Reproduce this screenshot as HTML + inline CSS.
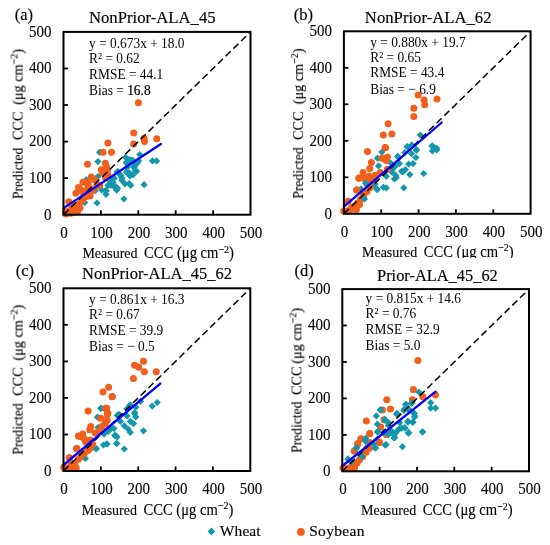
<!DOCTYPE html>
<html><head><meta charset="utf-8"><style>
html,body{margin:0;padding:0;background:#fff;}
svg{display:block;font-family:"Liberation Serif", serif;}
text{fill:#000;stroke:#000;stroke-width:0;will-change:transform;}
.k{stroke-width:0.1px;}
.t{stroke-width:0.15px;}
.l{stroke-width:0.12px;}
</style></head><body>
<svg width="550" height="545" viewBox="0 0 550 545">
<path d="M99.6 148.7L103.2 152.3L99.6 155.9L96.0 152.3Z" fill="#1297ab"/>
<path d="M98.0 158.0L101.6 161.6L98.0 165.2L94.4 161.6Z" fill="#1297ab"/>
<path d="M86.4 176.1L90.0 179.7L86.4 183.3L82.8 179.7Z" fill="#1297ab"/>
<path d="M97.9 173.0L101.5 176.6L97.9 180.2L94.3 176.6Z" fill="#1297ab"/>
<path d="M82.0 188.9L85.6 192.5L82.0 196.1L78.4 192.5Z" fill="#1297ab"/>
<path d="M95.2 187.1L98.8 190.7L95.2 194.3L91.6 190.7Z" fill="#1297ab"/>
<path d="M97.0 199.4L100.6 203.0L97.0 206.6L93.4 203.0Z" fill="#1297ab"/>
<path d="M84.7 199.0L88.3 202.6L84.7 206.2L81.1 202.6Z" fill="#1297ab"/>
<path d="M117.3 168.4L120.9 172.0L117.3 175.6L113.7 172.0Z" fill="#1297ab"/>
<path d="M112.9 175.0L116.5 178.6L112.9 182.2L109.3 178.6Z" fill="#1297ab"/>
<path d="M110.7 178.4L114.3 182.0L110.7 185.6L107.1 182.0Z" fill="#1297ab"/>
<path d="M115.0 183.8L118.6 187.4L115.0 191.0L111.4 187.4Z" fill="#1297ab"/>
<path d="M106.3 187.1L109.9 190.7L106.3 194.3L102.7 190.7Z" fill="#1297ab"/>
<path d="M139.7 150.9L143.3 154.5L139.7 158.1L136.1 154.5Z" fill="#1297ab"/>
<path d="M125.6 153.7L129.2 157.3L125.6 160.9L122.0 157.3Z" fill="#1297ab"/>
<path d="M131.0 156.7L134.6 160.3L131.0 163.9L127.4 160.3Z" fill="#1297ab"/>
<path d="M152.5 157.3L156.1 160.9L152.5 164.5L148.9 160.9Z" fill="#1297ab"/>
<path d="M156.6 157.3L160.2 160.9L156.6 164.5L153.0 160.9Z" fill="#1297ab"/>
<path d="M126.8 159.7L130.4 163.3L126.8 166.9L123.2 163.3Z" fill="#1297ab"/>
<path d="M137.0 159.7L140.6 163.3L137.0 166.9L133.4 163.3Z" fill="#1297ab"/>
<path d="M133.4 163.2L137.0 166.8L133.4 170.4L129.8 166.8Z" fill="#1297ab"/>
<path d="M135.2 166.8L138.8 170.4L135.2 174.0L131.6 170.4Z" fill="#1297ab"/>
<path d="M129.2 169.2L132.8 172.8L129.2 176.4L125.6 172.8Z" fill="#1297ab"/>
<path d="M129.8 172.2L133.4 175.8L129.8 179.4L126.2 175.8Z" fill="#1297ab"/>
<path d="M117.9 168.0L121.5 171.6L117.9 175.2L114.3 171.6Z" fill="#1297ab"/>
<path d="M120.9 172.2L124.5 175.8L120.9 179.4L117.3 175.8Z" fill="#1297ab"/>
<path d="M122.0 176.9L125.6 180.5L122.0 184.1L118.4 180.5Z" fill="#1297ab"/>
<path d="M129.2 179.9L132.8 183.5L129.2 187.1L125.6 183.5Z" fill="#1297ab"/>
<path d="M114.3 174.6L117.9 178.2L114.3 181.8L110.7 178.2Z" fill="#1297ab"/>
<path d="M111.3 178.1L114.9 181.7L111.3 185.3L107.7 181.7Z" fill="#1297ab"/>
<path d="M115.5 182.9L119.1 186.5L115.5 190.1L111.9 186.5Z" fill="#1297ab"/>
<path d="M116.7 186.5L120.3 190.1L116.7 193.7L113.1 190.1Z" fill="#1297ab"/>
<path d="M110.7 181.7L114.3 185.3L110.7 188.9L107.1 185.3Z" fill="#1297ab"/>
<path d="M105.4 187.1L109.0 190.7L105.4 194.3L101.8 190.7Z" fill="#1297ab"/>
<path d="M106.0 190.7L109.6 194.3L106.0 197.9L102.4 194.3Z" fill="#1297ab"/>
<path d="M144.1 181.1L147.7 184.7L144.1 188.3L140.5 184.7Z" fill="#1297ab"/>
<path d="M123.9 195.4L127.5 199.0L123.9 202.6L120.3 199.0Z" fill="#1297ab"/>
<path d="M101.8 186.5L105.4 190.1L101.8 193.7L98.2 190.1Z" fill="#1297ab"/>
<path d="M127.0 164.0L130.6 167.6L127.0 171.2L123.4 167.6Z" fill="#1297ab"/>
<path d="M134.4 163.3L138.0 166.9L134.4 170.5L130.8 166.9Z" fill="#1297ab"/>
<path d="M136.6 167.7L140.2 171.3L136.6 174.9L133.0 171.3Z" fill="#1297ab"/>
<path d="M129.3 170.7L132.9 174.3L129.3 177.9L125.7 174.3Z" fill="#1297ab"/>
<path d="M132.9 171.4L136.5 175.0L132.9 178.6L129.3 175.0Z" fill="#1297ab"/>
<path d="M126.3 168.4L129.9 172.0L126.3 175.6L122.7 172.0Z" fill="#1297ab"/>
<path d="M129.3 156.0L132.9 159.6L129.3 163.2L125.7 159.6Z" fill="#1297ab"/>
<path d="M126.3 158.9L129.9 162.5L126.3 166.1L122.7 162.5Z" fill="#1297ab"/>
<path d="M132.9 156.7L136.5 160.3L132.9 163.9L129.3 160.3Z" fill="#1297ab"/>
<path d="M135.9 159.3L139.5 162.9L135.9 166.5L132.3 162.9Z" fill="#1297ab"/>
<path d="M138.8 157.4L142.4 161.0L138.8 164.6L135.2 161.0Z" fill="#1297ab"/>
<path d="M119.7 170.7L123.3 174.3L119.7 177.9L116.1 174.3Z" fill="#1297ab"/>
<path d="M121.9 174.4L125.5 178.0L121.9 181.6L118.3 178.0Z" fill="#1297ab"/>
<path d="M124.9 180.2L128.5 183.8L124.9 187.4L121.3 183.8Z" fill="#1297ab"/>
<path d="M130.7 181.7L134.3 185.3L130.7 188.9L127.1 185.3Z" fill="#1297ab"/>
<path d="M108.0 181.7L111.6 185.3L108.0 188.9L104.4 185.3Z" fill="#1297ab"/>
<path d="M113.1 178.8L116.7 182.4L113.1 186.0L109.5 182.4Z" fill="#1297ab"/>
<path d="M117.5 184.6L121.1 188.2L117.5 191.8L113.9 188.2Z" fill="#1297ab"/>
<circle cx="138.4" cy="102.7" r="3.5" fill="#f15f1c"/>
<circle cx="133.7" cy="133.0" r="3.5" fill="#f15f1c"/>
<circle cx="156.8" cy="138.8" r="3.5" fill="#f15f1c"/>
<circle cx="144.1" cy="138.3" r="3.5" fill="#f15f1c"/>
<circle cx="144.5" cy="141.5" r="3.5" fill="#f15f1c"/>
<circle cx="133.6" cy="144.1" r="3.5" fill="#f15f1c"/>
<circle cx="107.9" cy="143.0" r="3.5" fill="#f15f1c"/>
<circle cx="103.0" cy="152.3" r="3.5" fill="#f15f1c"/>
<circle cx="111.5" cy="152.3" r="3.5" fill="#f15f1c"/>
<circle cx="87.5" cy="164.3" r="3.5" fill="#f15f1c"/>
<circle cx="105.3" cy="163.3" r="3.5" fill="#f15f1c"/>
<circle cx="101.3" cy="169.8" r="3.5" fill="#f15f1c"/>
<circle cx="106.4" cy="169.0" r="3.5" fill="#f15f1c"/>
<circle cx="102.4" cy="173.1" r="3.5" fill="#f15f1c"/>
<circle cx="91.3" cy="177.0" r="3.5" fill="#f15f1c"/>
<circle cx="82.9" cy="182.3" r="3.5" fill="#f15f1c"/>
<circle cx="88.2" cy="182.3" r="3.5" fill="#f15f1c"/>
<circle cx="78.5" cy="187.6" r="3.5" fill="#f15f1c"/>
<circle cx="75.9" cy="193.3" r="3.5" fill="#f15f1c"/>
<circle cx="68.8" cy="201.7" r="3.5" fill="#f15f1c"/>
<circle cx="99.6" cy="185.2" r="3.5" fill="#f15f1c"/>
<circle cx="97.0" cy="185.9" r="3.5" fill="#f15f1c"/>
<circle cx="65.3" cy="211.4" r="3.5" fill="#f15f1c"/>
<circle cx="70.6" cy="209.6" r="3.5" fill="#f15f1c"/>
<circle cx="75.9" cy="207.0" r="3.5" fill="#f15f1c"/>
<circle cx="79.4" cy="203.5" r="3.5" fill="#f15f1c"/>
<circle cx="82.9" cy="200.0" r="3.5" fill="#f15f1c"/>
<circle cx="86.4" cy="196.4" r="3.5" fill="#f15f1c"/>
<circle cx="90.0" cy="192.9" r="3.5" fill="#f15f1c"/>
<circle cx="75.0" cy="212.3" r="3.5" fill="#f15f1c"/>
<circle cx="70.6" cy="213.2" r="3.5" fill="#f15f1c"/>
<circle cx="77.6" cy="211.4" r="3.5" fill="#f15f1c"/>
<circle cx="93.0" cy="190.0" r="3.5" fill="#f15f1c"/>
<circle cx="84.0" cy="197.0" r="3.5" fill="#f15f1c"/>
<circle cx="66.0" cy="214.0" r="3.5" fill="#f15f1c"/>
<circle cx="72.0" cy="205.0" r="3.5" fill="#f15f1c"/>
<circle cx="80.0" cy="208.0" r="3.5" fill="#f15f1c"/>
<circle cx="106.5" cy="166.9" r="3.5" fill="#f15f1c"/>
<circle cx="107.2" cy="171.3" r="3.5" fill="#f15f1c"/>
<circle cx="107.9" cy="175.0" r="3.5" fill="#f15f1c"/>
<circle cx="105.7" cy="178.0" r="3.5" fill="#f15f1c"/>
<circle cx="88.0" cy="186.0" r="3.5" fill="#f15f1c"/>
<circle cx="92.0" cy="189.0" r="3.5" fill="#f15f1c"/>
<circle cx="86.0" cy="191.0" r="3.5" fill="#f15f1c"/>
<circle cx="95.0" cy="180.0" r="3.5" fill="#f15f1c"/>
<circle cx="81.0" cy="190.0" r="3.5" fill="#f15f1c"/>
<circle cx="90.0" cy="196.0" r="3.5" fill="#f15f1c"/>
<circle cx="84.0" cy="194.0" r="3.5" fill="#f15f1c"/>
<line x1="63.5" y1="214.7" x2="250.5" y2="31.9" stroke="#000" stroke-width="1.5" stroke-dasharray="7 3.8"/>
<line x1="63.5" y1="208.1" x2="160.9" y2="144.0" stroke="#0000ff" stroke-width="2.3" stroke-linecap="round"/>
<rect x="63.5" y="31.9" width="187.0" height="182.8" fill="none" stroke="#000" stroke-width="2"/>
<line x1="100.9" y1="214.7" x2="100.9" y2="210.2" stroke="#000" stroke-width="1.8"/>
<line x1="63.5" y1="178.1" x2="68.0" y2="178.1" stroke="#000" stroke-width="1.8"/>
<line x1="138.3" y1="214.7" x2="138.3" y2="210.2" stroke="#000" stroke-width="1.8"/>
<line x1="63.5" y1="141.6" x2="68.0" y2="141.6" stroke="#000" stroke-width="1.8"/>
<line x1="175.7" y1="214.7" x2="175.7" y2="210.2" stroke="#000" stroke-width="1.8"/>
<line x1="63.5" y1="105.0" x2="68.0" y2="105.0" stroke="#000" stroke-width="1.8"/>
<line x1="213.1" y1="214.7" x2="213.1" y2="210.2" stroke="#000" stroke-width="1.8"/>
<line x1="63.5" y1="68.5" x2="68.0" y2="68.5" stroke="#000" stroke-width="1.8"/>
<text class="k" transform="translate(51.60,219.60) scale(1.0,1.05)" font-size="15.0" text-anchor="end">0</text>
<text class="k" transform="translate(64.10,237.90) scale(1.0,1.05)" font-size="15.0" text-anchor="middle">0</text>
<text class="k" transform="translate(51.60,183.04) scale(1.0,1.05)" font-size="15.0" text-anchor="end">100</text>
<text class="k" transform="translate(101.50,237.90) scale(1.0,1.05)" font-size="15.0" text-anchor="middle">100</text>
<text class="k" transform="translate(51.60,146.48) scale(1.0,1.05)" font-size="15.0" text-anchor="end">200</text>
<text class="k" transform="translate(138.90,237.90) scale(1.0,1.05)" font-size="15.0" text-anchor="middle">200</text>
<text class="k" transform="translate(51.60,109.92) scale(1.0,1.05)" font-size="15.0" text-anchor="end">300</text>
<text class="k" transform="translate(176.30,237.90) scale(1.0,1.05)" font-size="15.0" text-anchor="middle">300</text>
<text class="k" transform="translate(51.60,73.36) scale(1.0,1.05)" font-size="15.0" text-anchor="end">400</text>
<text class="k" transform="translate(213.70,237.90) scale(1.0,1.05)" font-size="15.0" text-anchor="middle">400</text>
<text class="k" transform="translate(51.60,36.80) scale(1.0,1.05)" font-size="15.0" text-anchor="end">500</text>
<text class="k" transform="translate(251.10,237.90) scale(1.0,1.05)" font-size="15.0" text-anchor="middle">500</text>
<text class="t" transform="translate(152.30,23.00)" font-size="16.7" text-anchor="middle">NonPrior-ALA_45</text>
<text class="t" transform="translate(14.70,20.00)" font-size="16.6">(a)</text>
<text transform="translate(89.10,47.90) scale(1.0,1.12)" font-size="13.4">y = 0.673x + 18.0</text>
<text transform="translate(89.10,63.20) scale(1.0,1.12)" font-size="13.4">R² = 0.62</text>
<text transform="translate(89.10,78.60) scale(1.0,1.12)" font-size="13.4">RMSE = 44.1</text>
<text transform="translate(89.10,94.90) scale(1.0,1.12)" font-size="13.4">Bias = <tspan style="stroke-width:0.22px">16.8</tspan></text>
<text class="l" transform="translate(82.40,258.00) scale(1.0,1.08)" font-size="14.0">Measured</text>
<text class="l" transform="translate(144.10,258.00) scale(1.0,1.08)" font-size="14.6">CCC (μg cm<tspan dy="-5" font-size="10">−2</tspan><tspan dy="5">)</tspan></text>
<text class="l" transform="translate(22.7,199.0) rotate(-90) scale(1,1.08)" font-size="13.6">Predicted</text>
<text class="l" transform="translate(22.7,140.1) rotate(-90) scale(1,1.08)" font-size="14.2">CCC</text>
<text class="l" transform="translate(22.7,104.7) rotate(-90) scale(1,1.08)" font-size="14.2">(μg cm<tspan dy="-5" font-size="10">−2</tspan><tspan dy="5">)</tspan></text>
<path d="M420.3 131.5L423.9 135.1L420.3 138.7L416.7 135.1Z" fill="#1297ab"/>
<path d="M407.4 143.4L411.0 147.0L407.4 150.6L403.8 147.0Z" fill="#1297ab"/>
<path d="M411.6 141.6L415.2 145.2L411.6 148.8L408.0 145.2Z" fill="#1297ab"/>
<path d="M432.5 142.2L436.1 145.8L432.5 149.4L428.9 145.8Z" fill="#1297ab"/>
<path d="M436.6 144.6L440.2 148.2L436.6 151.8L433.0 148.2Z" fill="#1297ab"/>
<path d="M416.4 145.8L420.0 149.4L416.4 153.0L412.8 149.4Z" fill="#1297ab"/>
<path d="M381.9 148.5L385.5 152.1L381.9 155.7L378.3 152.1Z" fill="#1297ab"/>
<path d="M377.4 154.6L381.0 158.2L377.4 161.8L373.8 158.2Z" fill="#1297ab"/>
<path d="M397.8 152.9L401.4 156.5L397.8 160.1L394.2 156.5Z" fill="#1297ab"/>
<path d="M378.5 162.3L382.1 165.9L378.5 169.5L374.9 165.9Z" fill="#1297ab"/>
<path d="M390.7 159.5L394.3 163.1L390.7 166.7L387.1 163.1Z" fill="#1297ab"/>
<path d="M395.0 162.8L398.6 166.4L395.0 170.0L391.4 166.4Z" fill="#1297ab"/>
<path d="M391.8 168.4L395.4 172.0L391.8 175.6L388.2 172.0Z" fill="#1297ab"/>
<path d="M396.2 173.8L399.8 177.4L396.2 181.0L392.6 177.4Z" fill="#1297ab"/>
<path d="M386.3 172.7L389.9 176.3L386.3 179.9L382.7 176.3Z" fill="#1297ab"/>
<path d="M366.4 178.8L370.0 182.4L366.4 186.0L362.8 182.4Z" fill="#1297ab"/>
<path d="M375.2 180.4L378.8 184.0L375.2 187.6L371.6 184.0Z" fill="#1297ab"/>
<path d="M376.9 185.4L380.5 189.0L376.9 192.6L373.3 189.0Z" fill="#1297ab"/>
<path d="M386.3 184.3L389.9 187.9L386.3 191.5L382.7 187.9Z" fill="#1297ab"/>
<path d="M360.9 185.4L364.5 189.0L360.9 192.6L357.3 189.0Z" fill="#1297ab"/>
<path d="M407.1 142.9L410.7 146.5L407.1 150.1L403.5 146.5Z" fill="#1297ab"/>
<path d="M412.0 141.8L415.6 145.4L412.0 149.0L408.4 145.4Z" fill="#1297ab"/>
<path d="M431.9 142.4L435.5 146.0L431.9 149.6L428.3 146.0Z" fill="#1297ab"/>
<path d="M436.8 146.2L440.4 149.8L436.8 153.4L433.2 149.8Z" fill="#1297ab"/>
<path d="M432.4 147.3L436.0 150.9L432.4 154.5L428.8 150.9Z" fill="#1297ab"/>
<path d="M416.4 146.8L420.0 150.4L416.4 154.0L412.8 150.4Z" fill="#1297ab"/>
<path d="M404.9 149.0L408.5 152.6L404.9 156.2L401.3 152.6Z" fill="#1297ab"/>
<path d="M411.5 150.1L415.1 153.7L411.5 157.3L407.9 153.7Z" fill="#1297ab"/>
<path d="M415.9 153.9L419.5 157.5L415.9 161.1L412.3 157.5Z" fill="#1297ab"/>
<path d="M397.7 152.8L401.3 156.4L397.7 160.0L394.1 156.4Z" fill="#1297ab"/>
<path d="M399.4 160.0L403.0 163.6L399.4 167.2L395.8 163.6Z" fill="#1297ab"/>
<path d="M408.7 160.5L412.3 164.1L408.7 167.7L405.1 164.1Z" fill="#1297ab"/>
<path d="M413.1 160.0L416.7 163.6L413.1 167.2L409.5 163.6Z" fill="#1297ab"/>
<path d="M405.4 166.0L409.0 169.6L405.4 173.2L401.8 169.6Z" fill="#1297ab"/>
<path d="M401.6 167.7L405.2 171.3L401.6 174.9L398.0 171.3Z" fill="#1297ab"/>
<path d="M409.8 171.0L413.4 174.6L409.8 178.2L406.2 174.6Z" fill="#1297ab"/>
<path d="M423.6 169.9L427.2 173.5L423.6 177.1L420.0 173.5Z" fill="#1297ab"/>
<path d="M392.2 166.0L395.8 169.6L392.2 173.2L388.6 169.6Z" fill="#1297ab"/>
<path d="M395.5 171.6L399.1 175.2L395.5 178.8L391.9 175.2Z" fill="#1297ab"/>
<path d="M394.4 175.4L398.0 179.0L394.4 182.6L390.8 179.0Z" fill="#1297ab"/>
<path d="M403.8 184.2L407.4 187.8L403.8 191.4L400.2 187.8Z" fill="#1297ab"/>
<path d="M402.9 168.3L406.5 171.9L402.9 175.5L399.3 171.9Z" fill="#1297ab"/>
<path d="M374.4 181.2L378.0 184.8L374.4 188.4L370.8 184.8Z" fill="#1297ab"/>
<path d="M377.2 186.1L380.8 189.7L377.2 193.3L373.6 189.7Z" fill="#1297ab"/>
<path d="M383.4 183.7L387.0 187.3L383.4 190.9L379.8 187.3Z" fill="#1297ab"/>
<path d="M361.3 185.7L364.9 189.3L361.3 192.9L357.7 189.3Z" fill="#1297ab"/>
<circle cx="418.2" cy="95.1" r="3.5" fill="#f15f1c"/>
<circle cx="424.1" cy="99.9" r="3.5" fill="#f15f1c"/>
<circle cx="424.7" cy="104.7" r="3.5" fill="#f15f1c"/>
<circle cx="437.0" cy="99.1" r="3.5" fill="#f15f1c"/>
<circle cx="413.8" cy="108.3" r="3.5" fill="#f15f1c"/>
<circle cx="413.8" cy="116.6" r="3.5" fill="#f15f1c"/>
<circle cx="388.1" cy="123.8" r="3.5" fill="#f15f1c"/>
<circle cx="383.3" cy="135.1" r="3.5" fill="#f15f1c"/>
<circle cx="391.9" cy="133.9" r="3.5" fill="#f15f1c"/>
<circle cx="385.4" cy="147.6" r="3.5" fill="#f15f1c"/>
<circle cx="385.2" cy="147.7" r="3.5" fill="#f15f1c"/>
<circle cx="367.5" cy="151.6" r="3.5" fill="#f15f1c"/>
<circle cx="381.9" cy="158.2" r="3.5" fill="#f15f1c"/>
<circle cx="387.4" cy="157.1" r="3.5" fill="#f15f1c"/>
<circle cx="386.3" cy="160.4" r="3.5" fill="#f15f1c"/>
<circle cx="371.4" cy="162.6" r="3.5" fill="#f15f1c"/>
<circle cx="369.7" cy="168.6" r="3.5" fill="#f15f1c"/>
<circle cx="363.1" cy="172.5" r="3.5" fill="#f15f1c"/>
<circle cx="359.3" cy="178.0" r="3.5" fill="#f15f1c"/>
<circle cx="364.8" cy="177.4" r="3.5" fill="#f15f1c"/>
<circle cx="369.2" cy="176.3" r="3.5" fill="#f15f1c"/>
<circle cx="375.2" cy="175.2" r="3.5" fill="#f15f1c"/>
<circle cx="380.2" cy="172.5" r="3.5" fill="#f15f1c"/>
<circle cx="387.4" cy="169.2" r="3.5" fill="#f15f1c"/>
<circle cx="356.5" cy="190.1" r="3.5" fill="#f15f1c"/>
<circle cx="369.7" cy="187.4" r="3.5" fill="#f15f1c"/>
<circle cx="363.1" cy="195.0" r="3.5" fill="#f15f1c"/>
<circle cx="358.8" cy="178.3" r="3.5" fill="#f15f1c"/>
<circle cx="362.9" cy="177.9" r="3.5" fill="#f15f1c"/>
<circle cx="366.2" cy="179.9" r="3.5" fill="#f15f1c"/>
<circle cx="356.8" cy="190.1" r="3.5" fill="#f15f1c"/>
<circle cx="370.3" cy="187.3" r="3.5" fill="#f15f1c"/>
<circle cx="367.0" cy="191.4" r="3.5" fill="#f15f1c"/>
<circle cx="363.7" cy="195.5" r="3.5" fill="#f15f1c"/>
<circle cx="360.5" cy="199.5" r="3.5" fill="#f15f1c"/>
<circle cx="358.0" cy="202.8" r="3.5" fill="#f15f1c"/>
<circle cx="354.7" cy="206.1" r="3.5" fill="#f15f1c"/>
<circle cx="350.6" cy="209.4" r="3.5" fill="#f15f1c"/>
<circle cx="346.5" cy="211.0" r="3.5" fill="#f15f1c"/>
<circle cx="343.7" cy="211.0" r="3.5" fill="#f15f1c"/>
<circle cx="348.2" cy="201.2" r="3.5" fill="#f15f1c"/>
<circle cx="351.5" cy="207.7" r="3.5" fill="#f15f1c"/>
<circle cx="356.4" cy="209.4" r="3.5" fill="#f15f1c"/>
<circle cx="359.6" cy="204.5" r="3.5" fill="#f15f1c"/>
<circle cx="367.0" cy="184.0" r="3.5" fill="#f15f1c"/>
<circle cx="371.0" cy="181.0" r="3.5" fill="#f15f1c"/>
<circle cx="375.0" cy="178.5" r="3.5" fill="#f15f1c"/>
<path d="M364.5 195.4L368.1 199.0L364.5 202.6L360.9 199.0Z" fill="#1297ab"/>
<path d="M365.6 179.4L369.2 183.0L365.6 186.6L362.0 183.0Z" fill="#1297ab"/>
<line x1="343.9" y1="213.8" x2="530.6" y2="31.3" stroke="#000" stroke-width="1.5" stroke-dasharray="7 3.8"/>
<line x1="343.9" y1="206.6" x2="441.7" y2="122.5" stroke="#0000ff" stroke-width="2.3" stroke-linecap="round"/>
<rect x="343.9" y="31.3" width="186.7" height="182.5" fill="none" stroke="#000" stroke-width="2"/>
<line x1="381.2" y1="213.8" x2="381.2" y2="209.3" stroke="#000" stroke-width="1.8"/>
<line x1="343.9" y1="177.3" x2="348.4" y2="177.3" stroke="#000" stroke-width="1.8"/>
<line x1="418.6" y1="213.8" x2="418.6" y2="209.3" stroke="#000" stroke-width="1.8"/>
<line x1="343.9" y1="140.8" x2="348.4" y2="140.8" stroke="#000" stroke-width="1.8"/>
<line x1="455.9" y1="213.8" x2="455.9" y2="209.3" stroke="#000" stroke-width="1.8"/>
<line x1="343.9" y1="104.3" x2="348.4" y2="104.3" stroke="#000" stroke-width="1.8"/>
<line x1="493.3" y1="213.8" x2="493.3" y2="209.3" stroke="#000" stroke-width="1.8"/>
<line x1="343.9" y1="67.8" x2="348.4" y2="67.8" stroke="#000" stroke-width="1.8"/>
<text class="k" transform="translate(332.00,218.70) scale(1.0,1.05)" font-size="15.0" text-anchor="end">0</text>
<text class="k" transform="translate(344.50,237.00) scale(1.0,1.05)" font-size="15.0" text-anchor="middle">0</text>
<text class="k" transform="translate(332.00,182.20) scale(1.0,1.05)" font-size="15.0" text-anchor="end">100</text>
<text class="k" transform="translate(381.84,237.00) scale(1.0,1.05)" font-size="15.0" text-anchor="middle">100</text>
<text class="k" transform="translate(332.00,145.70) scale(1.0,1.05)" font-size="15.0" text-anchor="end">200</text>
<text class="k" transform="translate(419.18,237.00) scale(1.0,1.05)" font-size="15.0" text-anchor="middle">200</text>
<text class="k" transform="translate(332.00,109.20) scale(1.0,1.05)" font-size="15.0" text-anchor="end">300</text>
<text class="k" transform="translate(456.52,237.00) scale(1.0,1.05)" font-size="15.0" text-anchor="middle">300</text>
<text class="k" transform="translate(332.00,72.70) scale(1.0,1.05)" font-size="15.0" text-anchor="end">400</text>
<text class="k" transform="translate(493.86,237.00) scale(1.0,1.05)" font-size="15.0" text-anchor="middle">400</text>
<text class="k" transform="translate(332.00,36.20) scale(1.0,1.05)" font-size="15.0" text-anchor="end">500</text>
<text class="k" transform="translate(531.20,237.00) scale(1.0,1.05)" font-size="15.0" text-anchor="middle">500</text>
<text class="t" transform="translate(428.20,23.40)" font-size="16.7" text-anchor="middle">NonPrior-ALA_62</text>
<text class="t" transform="translate(293.80,20.00)" font-size="16.6">(b)</text>
<text transform="translate(370.20,46.70) scale(1.0,1.12)" font-size="13.4">y = 0.880x + 19.7</text>
<text transform="translate(370.20,62.00) scale(1.0,1.12)" font-size="13.4">R² = 0.65</text>
<text transform="translate(370.20,77.40) scale(1.0,1.12)" font-size="13.4">RMSE = 43.4</text>
<text transform="translate(370.20,93.70) scale(1.0,1.12)" font-size="13.4">Bias = − 6.9</text>
<text class="l" transform="translate(362.00,256.80) scale(1.0,1.08)" font-size="14.0">Measured</text>
<text class="l" transform="translate(423.70,256.80) scale(1.0,1.08)" font-size="14.6">CCC (μg cm<tspan dy="-5" font-size="10">−2</tspan><tspan dy="5">)</tspan></text>
<text class="l" transform="translate(303.1,198.6) rotate(-90) scale(1,1.08)" font-size="13.6">Predicted</text>
<text class="l" transform="translate(303.1,139.9) rotate(-90) scale(1,1.08)" font-size="14.2">CCC</text>
<text class="l" transform="translate(303.1,104.2) rotate(-90) scale(1,1.08)" font-size="14.2">(μg cm<tspan dy="-5" font-size="10">−2</tspan><tspan dy="5">)</tspan></text>
<path d="M157.2 398.9L160.8 402.5L157.2 406.1L153.6 402.5Z" fill="#1297ab"/>
<path d="M152.2 402.5L155.8 406.1L152.2 409.7L148.6 406.1Z" fill="#1297ab"/>
<path d="M140.5 397.7L144.1 401.3L140.5 404.9L136.9 401.3Z" fill="#1297ab"/>
<path d="M129.8 401.9L133.4 405.5L129.8 409.1L126.2 405.5Z" fill="#1297ab"/>
<path d="M135.8 403.6L139.4 407.2L135.8 410.8L132.2 407.2Z" fill="#1297ab"/>
<path d="M127.4 405.4L131.0 409.0L127.4 412.6L123.8 409.0Z" fill="#1297ab"/>
<path d="M101.2 404.8L104.8 408.4L101.2 412.0L97.6 408.4Z" fill="#1297ab"/>
<path d="M119.1 410.8L122.7 414.4L119.1 418.0L115.5 414.4Z" fill="#1297ab"/>
<path d="M134.6 409.0L138.2 412.6L134.6 416.2L131.0 412.6Z" fill="#1297ab"/>
<path d="M100.7 404.7L104.3 408.3L100.7 411.9L97.1 408.3Z" fill="#1297ab"/>
<path d="M97.4 413.5L101.0 417.1L97.4 420.7L93.8 417.1Z" fill="#1297ab"/>
<path d="M117.3 411.8L120.9 415.4L117.3 419.0L113.7 415.4Z" fill="#1297ab"/>
<path d="M98.0 423.9L101.6 427.5L98.0 431.1L94.4 427.5Z" fill="#1297ab"/>
<path d="M109.6 426.1L113.2 429.7L109.6 433.3L106.0 429.7Z" fill="#1297ab"/>
<path d="M114.0 425.0L117.6 428.6L114.0 432.2L110.4 428.6Z" fill="#1297ab"/>
<path d="M104.1 430.5L107.7 434.1L104.1 437.7L100.5 434.1Z" fill="#1297ab"/>
<path d="M115.1 431.6L118.7 435.2L115.1 438.8L111.5 435.2Z" fill="#1297ab"/>
<path d="M106.3 440.4L109.9 444.0L106.3 447.6L102.7 444.0Z" fill="#1297ab"/>
<path d="M116.7 439.9L120.3 443.5L116.7 447.1L113.1 443.5Z" fill="#1297ab"/>
<path d="M96.3 444.9L99.9 448.5L96.3 452.1L92.7 448.5Z" fill="#1297ab"/>
<path d="M93.0 439.9L96.6 443.5L93.0 447.1L89.4 443.5Z" fill="#1297ab"/>
<path d="M84.2 453.7L87.8 457.3L84.2 460.9L80.6 457.3Z" fill="#1297ab"/>
<path d="M85.4 454.9L89.0 458.5L85.4 462.1L81.8 458.5Z" fill="#1297ab"/>
<path d="M96.0 445.4L99.6 449.0L96.0 452.6L92.4 449.0Z" fill="#1297ab"/>
<path d="M86.5 440.2L90.1 443.8L86.5 447.4L82.9 443.8Z" fill="#1297ab"/>
<path d="M130.3 401.3L133.9 404.9L130.3 408.5L126.7 404.9Z" fill="#1297ab"/>
<path d="M127.0 405.2L130.6 408.8L127.0 412.4L123.4 408.8Z" fill="#1297ab"/>
<path d="M118.2 411.2L121.8 414.8L118.2 418.4L114.6 414.8Z" fill="#1297ab"/>
<path d="M127.0 412.3L130.6 415.9L127.0 419.5L123.4 415.9Z" fill="#1297ab"/>
<path d="M134.7 410.1L138.3 413.7L134.7 417.3L131.1 413.7Z" fill="#1297ab"/>
<path d="M135.8 413.4L139.4 417.0L135.8 420.6L132.2 417.0Z" fill="#1297ab"/>
<path d="M130.3 417.8L133.9 421.4L130.3 425.0L126.7 421.4Z" fill="#1297ab"/>
<path d="M133.6 420.0L137.2 423.6L133.6 427.2L130.0 423.6Z" fill="#1297ab"/>
<path d="M120.4 417.8L124.0 421.4L120.4 425.0L116.8 421.4Z" fill="#1297ab"/>
<path d="M124.3 422.2L127.9 425.8L124.3 429.4L120.7 425.8Z" fill="#1297ab"/>
<path d="M128.1 425.5L131.7 429.1L128.1 432.7L124.5 429.1Z" fill="#1297ab"/>
<path d="M130.3 428.8L133.9 432.4L130.3 436.0L126.7 432.4Z" fill="#1297ab"/>
<path d="M143.5 427.2L147.1 430.8L143.5 434.4L139.9 430.8Z" fill="#1297ab"/>
<path d="M111.6 424.4L115.2 428.0L111.6 431.6L108.0 428.0Z" fill="#1297ab"/>
<path d="M108.3 427.7L111.9 431.3L108.3 434.9L104.7 431.3Z" fill="#1297ab"/>
<path d="M114.9 432.1L118.5 435.7L114.9 439.3L111.3 435.7Z" fill="#1297ab"/>
<path d="M117.1 433.3L120.7 436.9L117.1 440.5L113.5 436.9Z" fill="#1297ab"/>
<path d="M107.2 440.4L110.8 444.0L107.2 447.6L103.6 444.0Z" fill="#1297ab"/>
<path d="M116.6 439.9L120.2 443.5L116.6 447.1L113.0 443.5Z" fill="#1297ab"/>
<path d="M124.3 445.4L127.9 449.0L124.3 452.6L120.7 449.0Z" fill="#1297ab"/>
<path d="M103.5 441.4L107.1 445.0L103.5 448.6L99.9 445.0Z" fill="#1297ab"/>
<circle cx="143.5" cy="361.3" r="3.5" fill="#f15f1c"/>
<circle cx="134.6" cy="365.3" r="3.5" fill="#f15f1c"/>
<circle cx="138.8" cy="367.3" r="3.5" fill="#f15f1c"/>
<circle cx="144.4" cy="371.8" r="3.5" fill="#f15f1c"/>
<circle cx="156.3" cy="371.8" r="3.5" fill="#f15f1c"/>
<circle cx="133.4" cy="378.4" r="3.5" fill="#f15f1c"/>
<circle cx="108.6" cy="387.2" r="3.5" fill="#f15f1c"/>
<circle cx="103.0" cy="392.0" r="3.5" fill="#f15f1c"/>
<circle cx="112.2" cy="396.5" r="3.5" fill="#f15f1c"/>
<circle cx="106.0" cy="408.4" r="3.5" fill="#f15f1c"/>
<circle cx="107.8" cy="413.2" r="3.5" fill="#f15f1c"/>
<circle cx="88.1" cy="411.0" r="3.5" fill="#f15f1c"/>
<circle cx="105.7" cy="408.3" r="3.5" fill="#f15f1c"/>
<circle cx="107.4" cy="414.3" r="3.5" fill="#f15f1c"/>
<circle cx="100.7" cy="418.2" r="3.5" fill="#f15f1c"/>
<circle cx="106.3" cy="419.8" r="3.5" fill="#f15f1c"/>
<circle cx="105.2" cy="423.7" r="3.5" fill="#f15f1c"/>
<circle cx="90.8" cy="426.4" r="3.5" fill="#f15f1c"/>
<circle cx="89.7" cy="429.7" r="3.5" fill="#f15f1c"/>
<circle cx="101.9" cy="426.4" r="3.5" fill="#f15f1c"/>
<circle cx="99.6" cy="430.8" r="3.5" fill="#f15f1c"/>
<circle cx="95.2" cy="433.0" r="3.5" fill="#f15f1c"/>
<circle cx="82.6" cy="434.1" r="3.5" fill="#f15f1c"/>
<circle cx="79.3" cy="436.3" r="3.5" fill="#f15f1c"/>
<circle cx="84.2" cy="438.5" r="3.5" fill="#f15f1c"/>
<circle cx="90.8" cy="440.7" r="3.5" fill="#f15f1c"/>
<circle cx="76.5" cy="448.5" r="3.5" fill="#f15f1c"/>
<circle cx="87.5" cy="449.6" r="3.5" fill="#f15f1c"/>
<circle cx="82.0" cy="452.9" r="3.5" fill="#f15f1c"/>
<circle cx="69.4" cy="457.8" r="3.5" fill="#f15f1c"/>
<circle cx="78.4" cy="436.0" r="3.5" fill="#f15f1c"/>
<circle cx="82.0" cy="437.0" r="3.5" fill="#f15f1c"/>
<circle cx="85.7" cy="440.9" r="3.5" fill="#f15f1c"/>
<circle cx="76.9" cy="448.6" r="3.5" fill="#f15f1c"/>
<circle cx="69.2" cy="457.8" r="3.5" fill="#f15f1c"/>
<circle cx="63.7" cy="467.4" r="3.5" fill="#f15f1c"/>
<circle cx="67.4" cy="468.1" r="3.5" fill="#f15f1c"/>
<circle cx="71.8" cy="467.4" r="3.5" fill="#f15f1c"/>
<circle cx="76.2" cy="468.1" r="3.5" fill="#f15f1c"/>
<circle cx="74.7" cy="463.7" r="3.5" fill="#f15f1c"/>
<circle cx="78.4" cy="459.3" r="3.5" fill="#f15f1c"/>
<circle cx="81.3" cy="456.3" r="3.5" fill="#f15f1c"/>
<circle cx="84.3" cy="453.4" r="3.5" fill="#f15f1c"/>
<circle cx="88.0" cy="450.4" r="3.5" fill="#f15f1c"/>
<circle cx="90.1" cy="448.2" r="3.5" fill="#f15f1c"/>
<circle cx="92.4" cy="444.6" r="3.5" fill="#f15f1c"/>
<circle cx="71.0" cy="463.0" r="3.5" fill="#f15f1c"/>
<circle cx="112.2" cy="396.7" r="3.5" fill="#f15f1c"/>
<circle cx="106.7" cy="408.2" r="3.5" fill="#f15f1c"/>
<circle cx="107.8" cy="413.7" r="3.5" fill="#f15f1c"/>
<circle cx="107.2" cy="420.3" r="3.5" fill="#f15f1c"/>
<circle cx="85.5" cy="441.5" r="3.5" fill="#f15f1c"/>
<circle cx="90.0" cy="440.0" r="3.5" fill="#f15f1c"/>
<line x1="63.5" y1="471.0" x2="250.3" y2="288.3" stroke="#000" stroke-width="1.5" stroke-dasharray="7 3.8"/>
<line x1="63.5" y1="465.0" x2="160.3" y2="383.6" stroke="#0000ff" stroke-width="2.3" stroke-linecap="round"/>
<rect x="63.5" y="288.3" width="186.8" height="182.7" fill="none" stroke="#000" stroke-width="2"/>
<line x1="100.9" y1="471.0" x2="100.9" y2="466.5" stroke="#000" stroke-width="1.8"/>
<line x1="63.5" y1="434.5" x2="68.0" y2="434.5" stroke="#000" stroke-width="1.8"/>
<line x1="138.2" y1="471.0" x2="138.2" y2="466.5" stroke="#000" stroke-width="1.8"/>
<line x1="63.5" y1="397.9" x2="68.0" y2="397.9" stroke="#000" stroke-width="1.8"/>
<line x1="175.6" y1="471.0" x2="175.6" y2="466.5" stroke="#000" stroke-width="1.8"/>
<line x1="63.5" y1="361.4" x2="68.0" y2="361.4" stroke="#000" stroke-width="1.8"/>
<line x1="212.9" y1="471.0" x2="212.9" y2="466.5" stroke="#000" stroke-width="1.8"/>
<line x1="63.5" y1="324.8" x2="68.0" y2="324.8" stroke="#000" stroke-width="1.8"/>
<text class="k" transform="translate(51.60,475.90) scale(1.0,1.05)" font-size="15.0" text-anchor="end">0</text>
<text class="k" transform="translate(64.10,494.20) scale(1.0,1.05)" font-size="15.0" text-anchor="middle">0</text>
<text class="k" transform="translate(51.60,439.36) scale(1.0,1.05)" font-size="15.0" text-anchor="end">100</text>
<text class="k" transform="translate(101.46,494.20) scale(1.0,1.05)" font-size="15.0" text-anchor="middle">100</text>
<text class="k" transform="translate(51.60,402.82) scale(1.0,1.05)" font-size="15.0" text-anchor="end">200</text>
<text class="k" transform="translate(138.82,494.20) scale(1.0,1.05)" font-size="15.0" text-anchor="middle">200</text>
<text class="k" transform="translate(51.60,366.28) scale(1.0,1.05)" font-size="15.0" text-anchor="end">300</text>
<text class="k" transform="translate(176.18,494.20) scale(1.0,1.05)" font-size="15.0" text-anchor="middle">300</text>
<text class="k" transform="translate(51.60,329.74) scale(1.0,1.05)" font-size="15.0" text-anchor="end">400</text>
<text class="k" transform="translate(213.54,494.20) scale(1.0,1.05)" font-size="15.0" text-anchor="middle">400</text>
<text class="k" transform="translate(51.60,293.20) scale(1.0,1.05)" font-size="15.0" text-anchor="end">500</text>
<text class="k" transform="translate(250.90,494.20) scale(1.0,1.05)" font-size="15.0" text-anchor="middle">500</text>
<text class="t" transform="translate(157.00,279.20)" font-size="16.5" text-anchor="middle">NonPrior-ALA_45_62</text>
<text class="t" transform="translate(15.70,276.00)" font-size="16.6">(c)</text>
<text transform="translate(89.10,303.80) scale(1.0,1.12)" font-size="13.4">y = 0.861x + 16.3</text>
<text transform="translate(89.10,319.10) scale(1.0,1.12)" font-size="13.4">R² = 0.67</text>
<text transform="translate(89.10,334.50) scale(1.0,1.12)" font-size="13.4">RMSE = 39.9</text>
<text transform="translate(89.10,350.80) scale(1.0,1.12)" font-size="13.4">Bias = − 0.5</text>
<text class="l" transform="translate(81.80,514.80) scale(1.0,1.08)" font-size="14.0">Measured</text>
<text class="l" transform="translate(143.50,514.80) scale(1.0,1.08)" font-size="14.6">CCC (μg cm<tspan dy="-5" font-size="10">−2</tspan><tspan dy="5">)</tspan></text>
<text class="l" transform="translate(22.7,454.6) rotate(-90) scale(1,1.08)" font-size="13.6">Predicted</text>
<text class="l" transform="translate(22.7,395.8) rotate(-90) scale(1,1.08)" font-size="14.2">CCC</text>
<text class="l" transform="translate(22.7,360.5) rotate(-90) scale(1,1.08)" font-size="14.2">(μg cm<tspan dy="-5" font-size="10">−2</tspan><tspan dy="5">)</tspan></text>
<circle cx="417.9" cy="360.4" r="3.5" fill="#f15f1c"/>
<circle cx="413.4" cy="389.6" r="3.5" fill="#f15f1c"/>
<circle cx="422.9" cy="396.7" r="3.5" fill="#f15f1c"/>
<circle cx="435.5" cy="395.0" r="3.5" fill="#f15f1c"/>
<circle cx="412.4" cy="399.7" r="3.5" fill="#f15f1c"/>
<circle cx="386.8" cy="399.7" r="3.5" fill="#f15f1c"/>
<circle cx="390.5" cy="408.9" r="3.5" fill="#f15f1c"/>
<circle cx="382.4" cy="410.1" r="3.5" fill="#f15f1c"/>
<circle cx="366.4" cy="420.9" r="3.5" fill="#f15f1c"/>
<circle cx="384.0" cy="419.8" r="3.5" fill="#f15f1c"/>
<circle cx="380.7" cy="426.9" r="3.5" fill="#f15f1c"/>
<circle cx="369.7" cy="433.5" r="3.5" fill="#f15f1c"/>
<circle cx="360.9" cy="439.0" r="3.5" fill="#f15f1c"/>
<circle cx="357.6" cy="444.6" r="3.5" fill="#f15f1c"/>
<circle cx="379.1" cy="442.4" r="3.5" fill="#f15f1c"/>
<circle cx="386.3" cy="434.6" r="3.5" fill="#f15f1c"/>
<circle cx="367.5" cy="447.9" r="3.5" fill="#f15f1c"/>
<circle cx="354.3" cy="451.2" r="3.5" fill="#f15f1c"/>
<circle cx="369.7" cy="442.4" r="3.5" fill="#f15f1c"/>
<circle cx="369.8" cy="433.7" r="3.5" fill="#f15f1c"/>
<circle cx="361.1" cy="438.7" r="3.5" fill="#f15f1c"/>
<circle cx="357.8" cy="443.6" r="3.5" fill="#f15f1c"/>
<circle cx="354.5" cy="450.7" r="3.5" fill="#f15f1c"/>
<circle cx="379.3" cy="442.0" r="3.5" fill="#f15f1c"/>
<circle cx="366.9" cy="449.0" r="3.5" fill="#f15f1c"/>
<circle cx="343.0" cy="468.0" r="3.5" fill="#f15f1c"/>
<circle cx="346.3" cy="468.8" r="3.5" fill="#f15f1c"/>
<circle cx="350.4" cy="467.2" r="3.5" fill="#f15f1c"/>
<circle cx="354.5" cy="468.0" r="3.5" fill="#f15f1c"/>
<circle cx="357.0" cy="463.0" r="3.5" fill="#f15f1c"/>
<circle cx="359.5" cy="459.8" r="3.5" fill="#f15f1c"/>
<circle cx="362.8" cy="456.4" r="3.5" fill="#f15f1c"/>
<circle cx="366.1" cy="452.3" r="3.5" fill="#f15f1c"/>
<circle cx="369.4" cy="448.2" r="3.5" fill="#f15f1c"/>
<circle cx="352.9" cy="464.7" r="3.5" fill="#f15f1c"/>
<path d="M418.8 388.4L422.4 392.0L418.8 395.6L415.2 392.0Z" fill="#1297ab"/>
<path d="M430.7 399.1L434.3 402.7L430.7 406.3L427.1 402.7Z" fill="#1297ab"/>
<path d="M435.5 404.5L439.1 408.1L435.5 411.7L431.9 408.1Z" fill="#1297ab"/>
<path d="M430.7 404.5L434.3 408.1L430.7 411.7L427.1 408.1Z" fill="#1297ab"/>
<path d="M405.6 400.9L409.2 404.5L405.6 408.1L402.0 404.5Z" fill="#1297ab"/>
<path d="M411.6 399.7L415.2 403.3L411.6 406.9L408.0 403.3Z" fill="#1297ab"/>
<path d="M403.9 406.9L407.5 410.5L403.9 414.1L400.3 410.5Z" fill="#1297ab"/>
<path d="M408.6 406.3L412.2 409.9L408.6 413.5L405.0 409.9Z" fill="#1297ab"/>
<path d="M414.0 409.8L417.6 413.4L414.0 417.0L410.4 413.4Z" fill="#1297ab"/>
<path d="M414.6 413.4L418.2 417.0L414.6 420.6L411.0 417.0Z" fill="#1297ab"/>
<path d="M396.7 410.4L400.3 414.0L396.7 417.6L393.1 414.0Z" fill="#1297ab"/>
<path d="M380.6 406.3L384.2 409.9L380.6 413.5L377.0 409.9Z" fill="#1297ab"/>
<path d="M384.8 415.8L388.4 419.4L384.8 423.0L381.2 419.4Z" fill="#1297ab"/>
<path d="M380.2 406.3L383.8 409.9L380.2 413.5L376.6 409.9Z" fill="#1297ab"/>
<path d="M397.3 410.7L400.9 414.3L397.3 417.9L393.7 414.3Z" fill="#1297ab"/>
<path d="M376.3 412.3L379.9 415.9L376.3 419.5L372.7 415.9Z" fill="#1297ab"/>
<path d="M385.2 416.7L388.8 420.3L385.2 423.9L381.6 420.3Z" fill="#1297ab"/>
<path d="M388.5 418.9L392.1 422.5L388.5 426.1L384.9 422.5Z" fill="#1297ab"/>
<path d="M377.4 420.6L381.0 424.2L377.4 427.8L373.8 424.2Z" fill="#1297ab"/>
<path d="M398.9 425.5L402.5 429.1L398.9 432.7L395.3 429.1Z" fill="#1297ab"/>
<path d="M377.4 428.3L381.0 431.9L377.4 435.5L373.8 431.9Z" fill="#1297ab"/>
<path d="M384.0 428.8L387.6 432.4L384.0 436.0L380.4 432.4Z" fill="#1297ab"/>
<path d="M390.7 426.6L394.3 430.2L390.7 433.8L387.1 430.2Z" fill="#1297ab"/>
<path d="M395.1 429.4L398.7 433.0L395.1 436.6L391.5 433.0Z" fill="#1297ab"/>
<path d="M394.0 434.4L397.6 438.0L394.0 441.6L390.4 438.0Z" fill="#1297ab"/>
<path d="M388.5 431.0L392.1 434.6L388.5 438.2L384.9 434.6Z" fill="#1297ab"/>
<path d="M365.3 435.4L368.9 439.0L365.3 442.6L361.7 439.0Z" fill="#1297ab"/>
<path d="M385.2 441.5L388.8 445.1L385.2 448.7L381.6 445.1Z" fill="#1297ab"/>
<path d="M375.2 444.3L378.8 447.9L375.2 451.5L371.6 447.9Z" fill="#1297ab"/>
<path d="M356.5 444.3L360.1 447.9L356.5 451.5L352.9 447.9Z" fill="#1297ab"/>
<path d="M365.7 434.7L369.3 438.3L365.7 441.9L362.1 438.3Z" fill="#1297ab"/>
<path d="M365.7 438.0L369.3 441.6L365.7 445.2L362.1 441.6Z" fill="#1297ab"/>
<path d="M378.1 428.1L381.7 431.7L378.1 435.3L374.5 431.7Z" fill="#1297ab"/>
<path d="M356.6 444.2L360.2 447.8L356.6 451.4L353.0 447.8Z" fill="#1297ab"/>
<path d="M375.6 444.2L379.2 447.8L375.6 451.4L372.0 447.8Z" fill="#1297ab"/>
<path d="M373.5 440.0L377.1 443.6L373.5 447.2L369.9 443.6Z" fill="#1297ab"/>
<path d="M362.0 452.8L365.6 456.4L362.0 460.0L358.4 456.4Z" fill="#1297ab"/>
<path d="M347.9 455.3L351.5 458.9L347.9 462.5L344.3 458.9Z" fill="#1297ab"/>
<path d="M351.2 458.2L354.8 461.8L351.2 465.4L347.6 461.8Z" fill="#1297ab"/>
<path d="M406.0 400.7L409.6 404.3L406.0 407.9L402.4 404.3Z" fill="#1297ab"/>
<path d="M412.0 399.3L415.6 402.9L412.0 406.5L408.4 402.9Z" fill="#1297ab"/>
<path d="M404.2 405.7L407.8 409.3L404.2 412.9L400.6 409.3Z" fill="#1297ab"/>
<path d="M408.8 405.7L412.4 409.3L408.8 412.9L405.2 409.3Z" fill="#1297ab"/>
<path d="M414.3 409.8L417.9 413.4L414.3 417.0L410.7 413.4Z" fill="#1297ab"/>
<path d="M414.7 412.6L418.3 416.2L414.7 419.8L411.1 416.2Z" fill="#1297ab"/>
<path d="M396.8 409.8L400.4 413.4L396.8 417.0L393.2 413.4Z" fill="#1297ab"/>
<path d="M407.8 417.6L411.4 421.2L407.8 424.8L404.2 421.2Z" fill="#1297ab"/>
<path d="M412.9 418.6L416.5 422.2L412.9 425.8L409.3 422.2Z" fill="#1297ab"/>
<path d="M399.6 419.0L403.2 422.6L399.6 426.2L396.0 422.6Z" fill="#1297ab"/>
<path d="M401.4 424.5L405.0 428.1L401.4 431.7L397.8 428.1Z" fill="#1297ab"/>
<path d="M404.6 424.1L408.2 427.7L404.6 431.3L401.0 427.7Z" fill="#1297ab"/>
<path d="M395.9 429.1L399.5 432.7L395.9 436.3L392.3 432.7Z" fill="#1297ab"/>
<path d="M408.8 429.1L412.4 432.7L408.8 436.3L405.2 432.7Z" fill="#1297ab"/>
<path d="M422.5 428.2L426.1 431.8L422.5 435.4L418.9 431.8Z" fill="#1297ab"/>
<path d="M422.6 428.4L426.2 432.0L422.6 435.6L419.0 432.0Z" fill="#1297ab"/>
<path d="M408.4 429.5L412.0 433.1L408.4 436.7L404.8 433.1Z" fill="#1297ab"/>
<path d="M402.4 443.1L406.0 446.7L402.4 450.3L398.8 446.7Z" fill="#1297ab"/>
<path d="M401.4 424.6L405.0 428.2L401.4 431.8L397.8 428.2Z" fill="#1297ab"/>
<path d="M405.2 424.6L408.8 428.2L405.2 431.8L401.6 428.2Z" fill="#1297ab"/>
<path d="M407.9 418.6L411.5 422.2L407.9 425.8L404.3 422.2Z" fill="#1297ab"/>
<path d="M412.8 418.6L416.4 422.2L412.8 425.8L409.2 422.2Z" fill="#1297ab"/>
<path d="M394.8 433.8L398.4 437.4L394.8 441.0L391.2 437.4Z" fill="#1297ab"/>
<path d="M392.6 430.0L396.2 433.6L392.6 437.2L389.0 433.6Z" fill="#1297ab"/>
<path d="M386.1 440.9L389.7 444.5L386.1 448.1L382.5 444.5Z" fill="#1297ab"/>
<path d="M388.3 421.9L391.9 425.5L388.3 429.1L384.7 425.5Z" fill="#1297ab"/>
<line x1="342.3" y1="471.3" x2="529.0" y2="289.1" stroke="#000" stroke-width="1.5" stroke-dasharray="7 3.8"/>
<line x1="342.3" y1="466.0" x2="435.6" y2="391.7" stroke="#0000ff" stroke-width="2.3" stroke-linecap="round"/>
<rect x="342.3" y="289.1" width="186.7" height="182.2" fill="none" stroke="#000" stroke-width="2"/>
<line x1="379.6" y1="471.3" x2="379.6" y2="466.8" stroke="#000" stroke-width="1.8"/>
<line x1="342.3" y1="434.9" x2="346.8" y2="434.9" stroke="#000" stroke-width="1.8"/>
<line x1="417.0" y1="471.3" x2="417.0" y2="466.8" stroke="#000" stroke-width="1.8"/>
<line x1="342.3" y1="398.4" x2="346.8" y2="398.4" stroke="#000" stroke-width="1.8"/>
<line x1="454.3" y1="471.3" x2="454.3" y2="466.8" stroke="#000" stroke-width="1.8"/>
<line x1="342.3" y1="362.0" x2="346.8" y2="362.0" stroke="#000" stroke-width="1.8"/>
<line x1="491.7" y1="471.3" x2="491.7" y2="466.8" stroke="#000" stroke-width="1.8"/>
<line x1="342.3" y1="325.5" x2="346.8" y2="325.5" stroke="#000" stroke-width="1.8"/>
<text class="k" transform="translate(330.40,476.20) scale(1.0,1.05)" font-size="15.0" text-anchor="end">0</text>
<text class="k" transform="translate(342.90,494.50) scale(1.0,1.05)" font-size="15.0" text-anchor="middle">0</text>
<text class="k" transform="translate(330.40,439.76) scale(1.0,1.05)" font-size="15.0" text-anchor="end">100</text>
<text class="k" transform="translate(380.24,494.50) scale(1.0,1.05)" font-size="15.0" text-anchor="middle">100</text>
<text class="k" transform="translate(330.40,403.32) scale(1.0,1.05)" font-size="15.0" text-anchor="end">200</text>
<text class="k" transform="translate(417.58,494.50) scale(1.0,1.05)" font-size="15.0" text-anchor="middle">200</text>
<text class="k" transform="translate(330.40,366.88) scale(1.0,1.05)" font-size="15.0" text-anchor="end">300</text>
<text class="k" transform="translate(454.92,494.50) scale(1.0,1.05)" font-size="15.0" text-anchor="middle">300</text>
<text class="k" transform="translate(330.40,330.44) scale(1.0,1.05)" font-size="15.0" text-anchor="end">400</text>
<text class="k" transform="translate(492.26,494.50) scale(1.0,1.05)" font-size="15.0" text-anchor="middle">400</text>
<text class="k" transform="translate(330.40,294.00) scale(1.0,1.05)" font-size="15.0" text-anchor="end">500</text>
<text class="k" transform="translate(529.60,494.50) scale(1.0,1.05)" font-size="15.0" text-anchor="middle">500</text>
<text class="t" transform="translate(437.40,281.40)" font-size="16.4" text-anchor="middle">Prior-ALA_45_62</text>
<text class="t" transform="translate(294.50,276.00)" font-size="16.6">(d)</text>
<text transform="translate(365.60,302.90) scale(1.0,1.12)" font-size="13.4">y = 0.815x + 14.6</text>
<text transform="translate(365.60,318.20) scale(1.0,1.12)" font-size="13.4">R² = 0.76</text>
<text transform="translate(365.60,333.60) scale(1.0,1.12)" font-size="13.4">RMSE = 32.9</text>
<text transform="translate(365.60,349.90) scale(1.0,1.12)" font-size="13.4">Bias = 5.0</text>
<text class="l" transform="translate(361.00,515.00) scale(1.0,1.08)" font-size="14.0">Measured</text>
<text class="l" transform="translate(422.70,515.00) scale(1.0,1.08)" font-size="14.6">CCC (μg cm<tspan dy="-5" font-size="10">−2</tspan><tspan dy="5">)</tspan></text>
<text class="l" transform="translate(301.5,452.8) rotate(-90) scale(1,1.08)" font-size="13.6">Predicted</text>
<text class="l" transform="translate(301.5,395.0) rotate(-90) scale(1,1.08)" font-size="14.2">CCC</text>
<text class="l" transform="translate(301.5,363.6) rotate(-90) scale(1,1.08)" font-size="14.2">(μg cm<tspan dy="-5" font-size="10">−2</tspan><tspan dy="5">)</tspan></text>
<rect x="345" y="257.9" width="190" height="5" fill="#fff"/>
<path d="M211.4 527.6L215.2 531.4L211.4 535.2L207.6 531.4Z" fill="#1297ab"/>
<text class="t" transform="translate(219.80,536.30)" font-size="15.5" letter-spacing="0.1">Wheat</text>
<circle cx="300.9" cy="531.9" r="3.9" fill="#f15f1c"/>
<text class="t" transform="translate(309.20,536.30)" font-size="15.5" letter-spacing="0.3">Soybean</text>
</svg></body></html>
